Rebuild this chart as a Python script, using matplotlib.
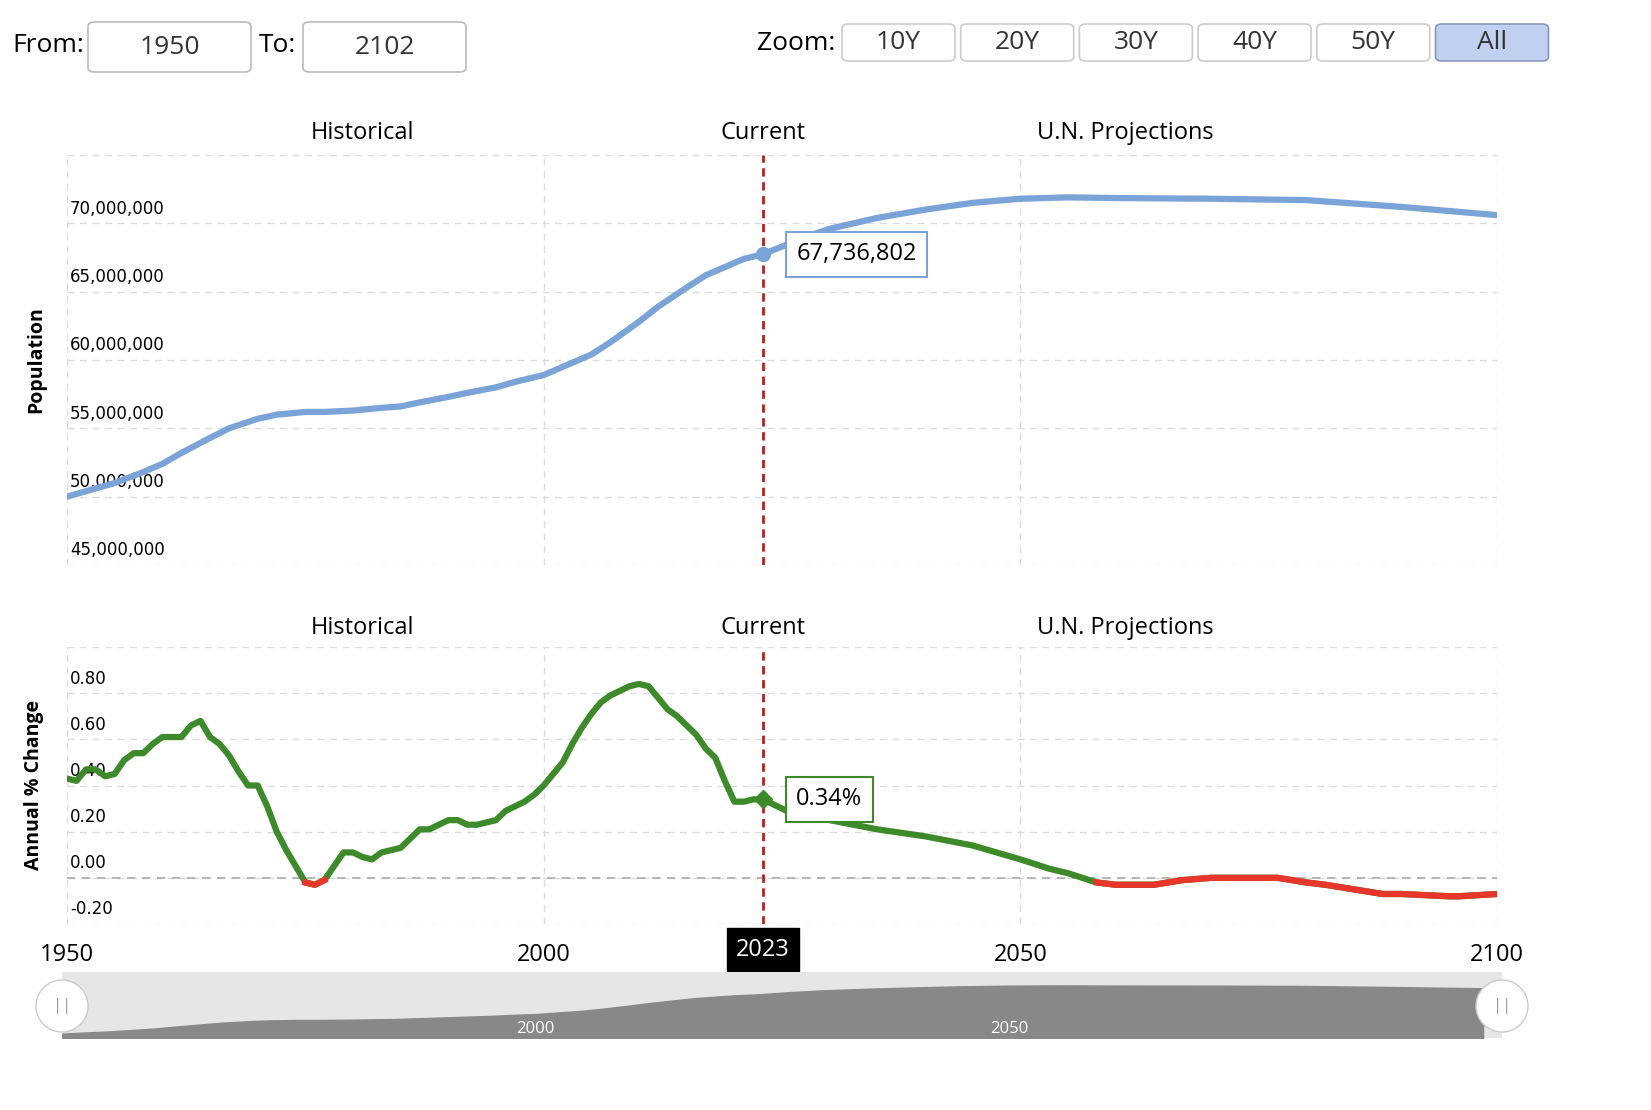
import numpy as np
import matplotlib
matplotlib.use("Agg")
import matplotlib.pyplot as plt
from matplotlib.patches import FancyBboxPatch, Ellipse

# ---- data ----
pop_years = [1950, 1952, 1955, 1958, 1960, 1962, 1965, 1967, 1970, 1972, 1975, 1977,
             1980, 1983, 1985, 1987, 1990, 1992, 1995, 1997, 2000, 2002, 2005, 2007,
             2010, 2012, 2015, 2017, 2020, 2021, 2023, 2025, 2027, 2030, 2035, 2040,
             2045, 2050, 2055, 2060, 2070, 2080, 2090, 2100]
pop_values = [50.0, 50.4, 51.0, 51.8, 52.4, 53.2, 54.3, 55.0, 55.7, 56.0, 56.2, 56.2,
              56.3, 56.5, 56.6, 56.9, 57.3, 57.6, 58.0, 58.4, 58.9, 59.5, 60.4, 61.3,
              62.8, 63.9, 65.3, 66.2, 67.1, 67.4, 67.737, 68.3, 68.9, 69.6, 70.4, 71.0,
              71.5, 71.8, 71.9, 71.85, 71.8, 71.7, 71.2, 70.6]

chg_years = list(range(1950, 2024)) + [2026, 2030, 2035, 2040, 2045, 2050, 2053, 2055,
                                       2058, 2060, 2064, 2067, 2070, 2075, 2077, 2080,
                                       2082, 2085, 2088, 2090, 2095, 2096, 2100]
chg_values = [0.43, 0.42, 0.47, 0.47, 0.44, 0.45, 0.51, 0.54, 0.54, 0.58,
              0.61, 0.61, 0.61, 0.66, 0.68, 0.61, 0.58, 0.53, 0.46, 0.40,
              0.40, 0.31, 0.20, 0.12, 0.05, -0.02, -0.03, -0.01, 0.05, 0.11,
              0.11, 0.09, 0.08, 0.11, 0.12, 0.13, 0.17, 0.21, 0.21, 0.23,
              0.25, 0.25, 0.23, 0.23, 0.24, 0.25, 0.29, 0.31, 0.33, 0.36,
              0.40, 0.45, 0.50, 0.58, 0.65, 0.71, 0.76, 0.79, 0.81, 0.83,
              0.84, 0.83, 0.78, 0.73, 0.70, 0.66, 0.62, 0.56, 0.52, 0.42,
              0.33, 0.33, 0.34, 0.34,
              0.28, 0.25, 0.21, 0.18, 0.14, 0.08, 0.04, 0.02,
              -0.02, -0.03, -0.03, -0.01, 0.00, 0.00, 0.00, -0.02,
              -0.03, -0.05, -0.07, -0.07, -0.08, -0.08, -0.07]

current_year = 2023
current_pop = 67736802
current_chg = 0.34
section_labels = ["Historical", "Current", "U.N. Projections"]
section_x = [1981, 2023, 2061]
zoom_labels = ["10Y", "20Y", "30Y", "40Y", "50Y", "All"]

W, H = 1651, 1110
fig = plt.figure(figsize=(W / 100, H / 100), dpi=100)
plt.rcParams['font.family'] = ['Open Sans', 'DejaVu Sans']

def ax_at(x0, y0, x1, y1):
    return fig.add_axes([x0 / W, 1 - y1 / H, (x1 - x0) / W, (y1 - y0) / H])

grid_kw = dict(color="#dddddd", ls=(0, (5, 4)), lw=1)

def style(ax, ylim, ticks, labels):
    ax.set_xlim(1950, 2100)
    ax.set_ylim(*ylim)
    for s in ax.spines.values():
        s.set_visible(False)
    ax.set_xticks([]); ax.set_yticks([])
    for t in ticks:
        ax.axhline(t, **grid_kw, zorder=0)
    for x in [1950, 2000, 2050, 2100]:
        ax.axvline(x, **grid_kw, zorder=0)
    for t, l in zip(ticks, labels):
        ax.annotate(l, (1950, t), xytext=(2, 4), textcoords="offset points",
                    fontsize=12, family="DejaVu Sans", va="bottom", ha="left")
    ax.axvline(current_year, color="#b22222", ls=(0, (3, 2)), lw=2, zorder=3)
    for lab, x in zip(section_labels, section_x):
        ax.text(x, 1.025, lab, transform=ax.get_xaxis_transform(), ha="center",
                va="bottom", fontsize=17)

# ---- population panel ----
ax1 = ax_at(67, 155, 1497, 565)
pt = [45e6 + 5e6 * i for i in range(7)]
style(ax1, (45e6, 75e6), pt[:-1] + [75e6], [f"{int(v):,}" for v in pt[:-1]] + [""])
ax1.plot(pop_years, np.array(pop_values) * 1e6, color="#7aa3d8", lw=4.5, zorder=4,
         solid_capstyle="round")
ax1.plot(current_year, current_pop, "o", color="#7aa3d8", ms=10, zorder=5)
ax1.annotate(f"{current_pop:,}", (current_year, current_pop), xytext=(24, 0),
             textcoords="offset points", fontsize=17, va="center", ha="left",
             bbox=dict(boxstyle="square,pad=0.45", fc="white", ec="#7aa3d8", lw=1.5),
             zorder=6)
fig.text(36 / W, 1 - 360 / H, "Population", rotation=90, ha="center", va="center",
         fontsize=14, fontweight="bold")

# ---- annual change panel ----
ax2 = ax_at(67, 647, 1497, 924)
ct = [-0.2, 0.0, 0.2, 0.4, 0.6, 0.8, 1.0]
style(ax2, (-0.2, 1.0), ct, [f"{v:.2f}" for v in ct[:-1]] + [""])
ax2.axhline(0, color="#aaaaaa", ls=(0, (5, 4)), lw=1.2, zorder=1)
cy = np.array(chg_years, float)
cv = np.array(chg_values)
ax2.plot(cy, cv, color="#3d8a2a", lw=4.5, zorder=4)
neg = np.ma.masked_where(cv > 0, cv)
ax2.plot(cy, neg, color="#e8362b", lw=4.5, zorder=4.5)
ax2.plot(current_year, current_chg, "D", color="#3d8a2a", ms=9, zorder=5)
ax2.annotate(f"{current_chg:.2f}%", (current_year, current_chg), xytext=(24, 0),
             textcoords="offset points", fontsize=17, va="center", ha="left",
             bbox=dict(boxstyle="square,pad=0.45", fc="white", ec="#3d8a2a", lw=1.5),
             zorder=6)
fig.text(34 / W, 1 - 785 / H, "Annual % Change", rotation=90, ha="center",
         va="center", fontsize=14, fontweight="bold")

# x labels
for x in [1950, 2000, 2050, 2100]:
    ax2.text(x, -0.07, str(x), transform=ax2.get_xaxis_transform(), ha="center",
             va="top", fontsize=17)
ax2.text(current_year, -0.05, str(current_year), transform=ax2.get_xaxis_transform(),
         ha="center", va="top", fontsize=17, color="white",
         bbox=dict(boxstyle="square,pad=0.4", fc="black", ec="black"))

# ---- navigator ----
nav = ax_at(62, 972, 1502, 1038)
nav.set_xlim(1950, 2102); nav.set_ylim(0, 1)
nav.axis("off")
nav.axvspan(1950, 2102, color="#e6e6e6", zorder=0)
nv = (np.array(pop_values) - 48) / 30
nav.fill_between(pop_years, 0, nv, color="#888888", zorder=1)
nav.text(2000, 0.08, "2000", color="white", ha="center", fontsize=12)
nav.text(2050, 0.08, "2050", color="white", ha="center", fontsize=12)
for px in [62, 1502]:
    fig.patches.append(Ellipse((px / W, 1 - 1006 / H), 52 / W, 52 / H,
                               transform=fig.transFigure, fc="white", ec="#cccccc",
                               lw=1, zorder=10))
    fig.text(px / W, 1 - 1006 / H, "||", ha="center", va="center", color="#999999",
             fontsize=12, zorder=11)

# ---- top controls ----
def box(x0, y0, x1, y1, label, fc="white", ec="#bbbbbb", fs=19):
    fig.patches.append(FancyBboxPatch((x0 / W, 1 - y1 / H), (x1 - x0) / W, (y1 - y0) / H,
                                      boxstyle="round,pad=0,rounding_size=0.004",
                                      transform=fig.transFigure, fc=fc, ec=ec, lw=1.2))
    fig.text((x0 + x1) / 2 / W, 1 - (y0 + y1) / 2 / H, label, ha="center",
             va="center", fontsize=fs, color="#333333")

fig.text(12 / W, 1 - 46 / H, "From:", fontsize=19, va="center")
box(88, 22, 251, 72, "1950")
fig.text(259 / W, 1 - 46 / H, "To:", fontsize=19, va="center")
box(303, 22, 466, 72, "2102")
fig.text(757 / W, 1 - 43 / H, "Zoom:", fontsize=19, va="center")
for i, lab in enumerate(zoom_labels):
    x0 = 842 + i * 118.7
    sel = lab == "All"
    box(x0, 24, x0 + 113, 61, lab, fc="#c0d0f0" if sel else "white",
        ec="#8899bb" if sel else "#cccccc")

fig.savefig("out.png", dpi=100)
